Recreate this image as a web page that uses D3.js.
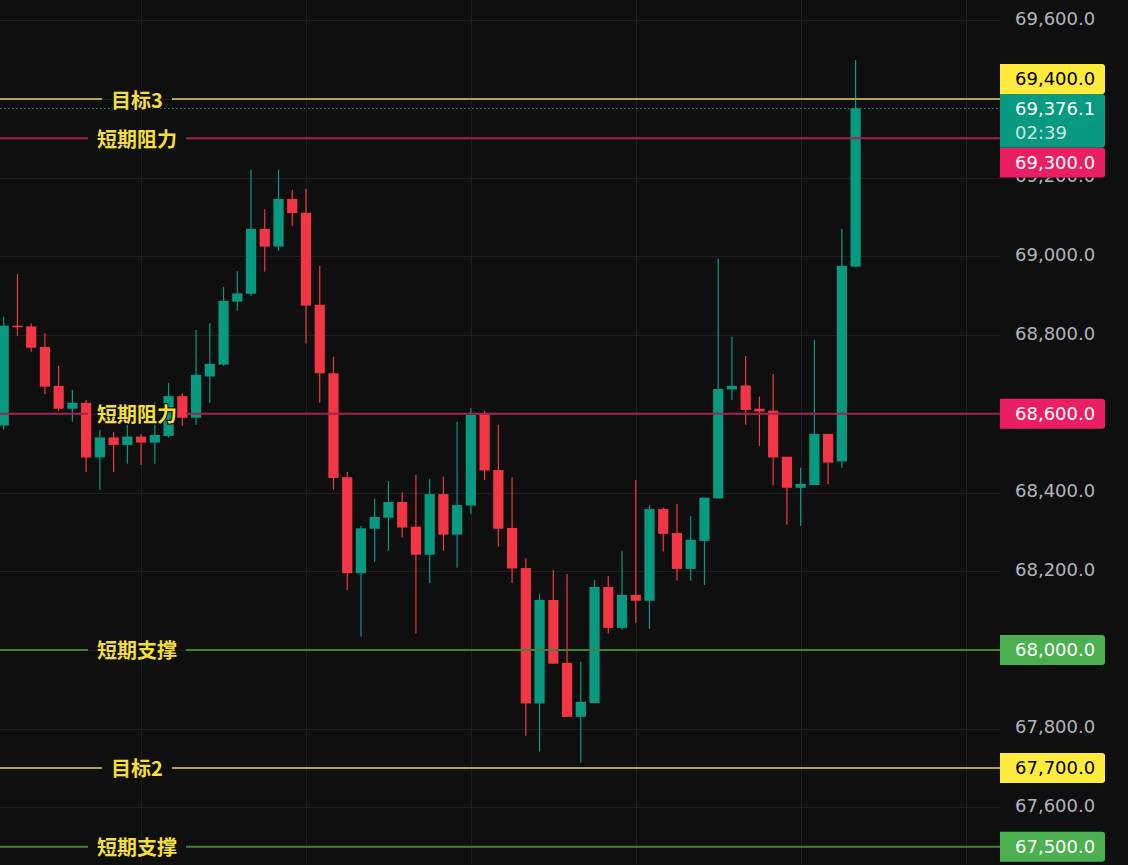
<!DOCTYPE html>
<html><head><meta charset="utf-8">
<script src="https://cdn.jsdelivr.net/npm/d3@7"></script>
<style>html,body{margin:0;padding:0;background:#0f0f0f;overflow:hidden}</style>
</head><body><svg id="c" width="1128" height="865"></svg>
<script>
// ---- data ----
const categories = d3.range(63); // candle index (time slots)
const opens  = [68570,68824,68822,68770,68671,68613,68628,68489,68540,68521,68542,68527,68544,68645,68590,68695,68725,68885,68905,69070,69025,69146,69111,68877,68703,68439,68195,68308,68336,68376,68313,68242,68396,68293,68367,68601,68457,68310,68208,67864,68127,67967,67830,67865,68160,68056,68140,68125,68358,68297,68206,68277,68385,68662,68672,68613,68608,68491,68412,68419,68549,68479,68974];
const highs  = [68847,68955,68830,68805,68722,68661,68635,68559,68553,68576,68548,68629,68679,68652,68813,68830,68923,68963,69220,69120,69220,69169,69172,68976,68745,68452,68315,68384,68429,68401,68445,68435,68441,68579,68614,68608,68572,68439,68233,68142,68203,68193,67970,68178,68188,68252,68432,68368,68362,68371,68341,68387,68995,68796,68747,68644,68701,68491,68463,68788,68549,69070,69499];
const lows   = [68560,68798,68758,68650,68608,68580,68452,68407,68452,68473,68470,68473,68540,68570,68572,68628,68722,68862,68900,68961,69015,69078,68779,68628,68408,68152,68034,68224,68252,68286,68042,68170,68252,68209,68345,68432,68263,68170,67782,67742,67965,67830,67714,67865,68042,68051,68069,68053,68250,68176,68176,68165,68385,68635,68572,68518,68418,68318,68315,68419,68421,68463,68974];
const closes = [68824,68820,68768,68669,68613,68628,68489,68540,68521,68542,68527,68546,68645,68590,68699,68727,68887,68906,69070,69025,69146,69110,68875,68703,68437,68195,68309,68338,68376,68311,68242,68396,68293,68368,68597,68456,68308,68207,67864,68127,67965,67830,67868,68160,68056,68140,68125,68358,68295,68206,68280,68387,68663,68671,68610,68606,68489,68412,68422,68549,68476,68976,69376.1];
const lastPrice = 69376.1;
const countdown = "02:39";
const levelValues = [69400, 69300, 68600, 68000, 67700, 67500];
const levelNames  = ["目标3", "短期阻力", "短期阻力", "短期支撑", "目标2", "短期支撑"];
const levelKinds  = ["target", "resist", "resist", "support", "target", "support"];
const tickValues  = [67600, 67800, 68000, 68200, 68400, 68600, 68800, 69000, 69200, 69400, 69600];

// ---- styles ----
const W = 1128, H = 865, plotRight = 1000;
const bg = "#0f0f0f", gridColor = "#1f1f1f";
const upColor = "#089981", downColor = "#f23645";
const lineColor = {target: "#b3a443", resist: "#a3234f", support: "#44803a"};
const boxColor  = {target: "#ffeb3b", resist: "#e91e63", support: "#4caf50"};
const boxText   = {target: "#000000", resist: "#ffffff", support: "#ffffff"};
const fmt = d3.format(",.1f");

const svg = d3.select("#c");
const defs = svg.append("defs");
svg.append("rect").attr("width", W).attr("height", H).attr("fill", bg);

const x = d3.scaleLinear().domain([0, 62]).range([3.7, 855.6]);
const y = d3.scaleLinear().domain([67500, 69400]).range([846.7, 99]);
const bodyW = 10.2;

// grid
const gGrid = svg.append("g");
gGrid.selectAll("line.h").data(tickValues).join("line")
  .attr("x1", 0).attr("x2", plotRight)
  .attr("y1", d => Math.round(y(d)) + 0.5).attr("y2", d => Math.round(y(d)) + 0.5)
  .attr("stroke", gridColor).attr("stroke-width", 1);
gGrid.selectAll("line.v").data(d3.range(10, 71, 12)).join("line")
  .attr("x1", d => Math.round(x(d)) + 0.5).attr("x2", d => Math.round(x(d)) + 0.5)
  .attr("y1", 0).attr("y2", H)
  .attr("stroke", gridColor).attr("stroke-width", 1);

// candles
const candles = categories.map(i => ({i, o: opens[i], h: highs[i], l: lows[i], c: closes[i]}));
const gC = svg.append("g");
gC.selectAll("line.wick").data(candles).join("line")
  .attr("x1", d => x(d.i)).attr("x2", d => x(d.i))
  .attr("y1", d => y(d.h)).attr("y2", d => y(d.l))
  .attr("stroke", d => d.c >= d.o ? upColor : downColor).attr("stroke-width", 1.2);
gC.selectAll("rect.body").data(candles).join("rect")
  .attr("x", d => x(d.i) - bodyW / 2).attr("width", bodyW)
  .attr("y", d => y(Math.max(d.o, d.c)))
  .attr("height", d => Math.max(1.5, Math.abs(y(d.o) - y(d.c))))
  .attr("fill", d => d.c >= d.o ? upColor : downColor);

// last price dotted line
svg.append("line").attr("x1", 0).attr("x2", plotRight)
  .attr("y1", y(lastPrice)).attr("y2", y(lastPrice))
  .attr("stroke", upColor).attr("stroke-width", 1).attr("stroke-dasharray", "1.5,2.5");

// level lines with labels
const labelX = 137, pad = 9;
const gL = svg.append("g");
levelValues.forEach((v, k) => {
  const kind = levelKinds[k];
  const yy = y(v);
  const t = gL.append("text").attr("x", labelX).attr("y", yy)
    .attr("text-anchor", "middle").attr("dominant-baseline", "central")
    .attr("font-family", "'Noto Sans CJK SC', 'Noto Sans', sans-serif")
    .attr("font-weight", 700).attr("font-size", 20)
    .attr("fill", "#f3df3c")
    .attr("stroke", "#111").attr("stroke-width", 2.5).attr("paint-order", "stroke")
    .text(levelNames[k]);
  const bb = t.node().getBBox();
  gL.insert("line", "text").attr("x1", 0).attr("x2", bb.x - pad)
    .attr("y1", yy).attr("y2", yy).attr("stroke", lineColor[kind]).attr("stroke-width", 2);
  gL.insert("line", "text").attr("x1", bb.x + bb.width + pad).attr("x2", plotRight)
    .attr("y1", yy).attr("y2", yy).attr("stroke", lineColor[kind]).attr("stroke-width", 2);
});

// price boxes layout
const boxX = plotRight, boxW = 105, boxH = 30, r = 3;
const lastTop = y(lastPrice) - 14.5, lastH = 53.5;
const boxes = levelValues.map((v, k) => {
  let top = y(v) - boxH / 2;
  if (top < lastTop + lastH && top + boxH > lastTop) {
    top = (y(v) < y(lastPrice)) ? lastTop - boxH : lastTop + lastH;
  }
  return {v, kind: levelKinds[k], top, h: boxH};
});
const allRects = boxes.map(b => [b.top, b.top + b.h]).concat([[lastTop, lastTop + lastH]]);

// price axis: labels hidden under boxes are dropped, partially covered ones clipped
const axisShift = -1.5;
const axis = d3.axisRight(y).tickValues(tickValues).tickFormat(fmt).tickSize(0).tickPadding(15);
const gA = svg.append("g").attr("transform", `translate(${plotRight},${axisShift})`).call(axis);
gA.select(".domain").remove();
gA.selectAll(".tick").each(function(d) {
  const cy = y(d) + axisShift;
  let segs = [[cy - 8, cy + 8]];
  for (const [a, b] of allRects) {
    const next = [];
    for (const [s0, s1] of segs) {
      if (s1 <= a || s0 >= b) { next.push([s0, s1]); continue; }
      if (s0 < a) next.push([s0, a]);
      if (s1 > b) next.push([b, s1]);
    }
    segs = next;
  }
  const g = d3.select(this);
  const vis = d3.sum(segs, s => s[1] - s[0]);
  if (vis < 3) { g.remove(); return; }
  if (vis < 16) {
    const local = this.getCTM().f; // tick's own y offset in page coords
    const id = "clip" + d;
    const cp = defs.append("clipPath").attr("id", id);
    segs.forEach(s => cp.append("rect").attr("x", -10).attr("width", 140)
      .attr("y", s[0] - local).attr("height", s[1] - s[0]));
    g.select("text").attr("clip-path", `url(#${id})`);
  }
});
gA.selectAll("text").attr("fill", "#b2b5be").attr("font-size", 18)
  .attr("font-family", "'DejaVu Sans', sans-serif");

function boxPath(x0, y0, w, h) {
  return `M${x0},${y0}H${x0 + w - r}Q${x0 + w},${y0} ${x0 + w},${y0 + r}V${y0 + h - r}Q${x0 + w},${y0 + h} ${x0 + w - r},${y0 + h}H${x0}Z`;
}
const gB = svg.append("g").attr("font-family", "'DejaVu Sans', sans-serif").attr("font-size", 18);
boxes.forEach(b => {
  gB.append("path").attr("d", boxPath(boxX, b.top, boxW, b.h)).attr("fill", boxColor[b.kind]);
  gB.append("text").attr("x", boxX + 15).attr("y", b.top + b.h / 2).attr("dy", "0.35em")
    .attr("fill", boxText[b.kind]).text(fmt(b.v));
});
gB.append("path").attr("d", boxPath(boxX, lastTop, boxW, lastH)).attr("fill", upColor);
gB.append("text").attr("x", boxX + 15).attr("y", lastTop + 14.5).attr("dy", "0.35em")
  .attr("fill", "#ffffff").text(fmt(lastPrice));
gB.append("text").attr("x", boxX + 15).attr("y", lastTop + 38.5).attr("dy", "0.35em")
  .attr("fill", "rgba(255,255,255,0.78)").text(countdown);
</script></body></html>
